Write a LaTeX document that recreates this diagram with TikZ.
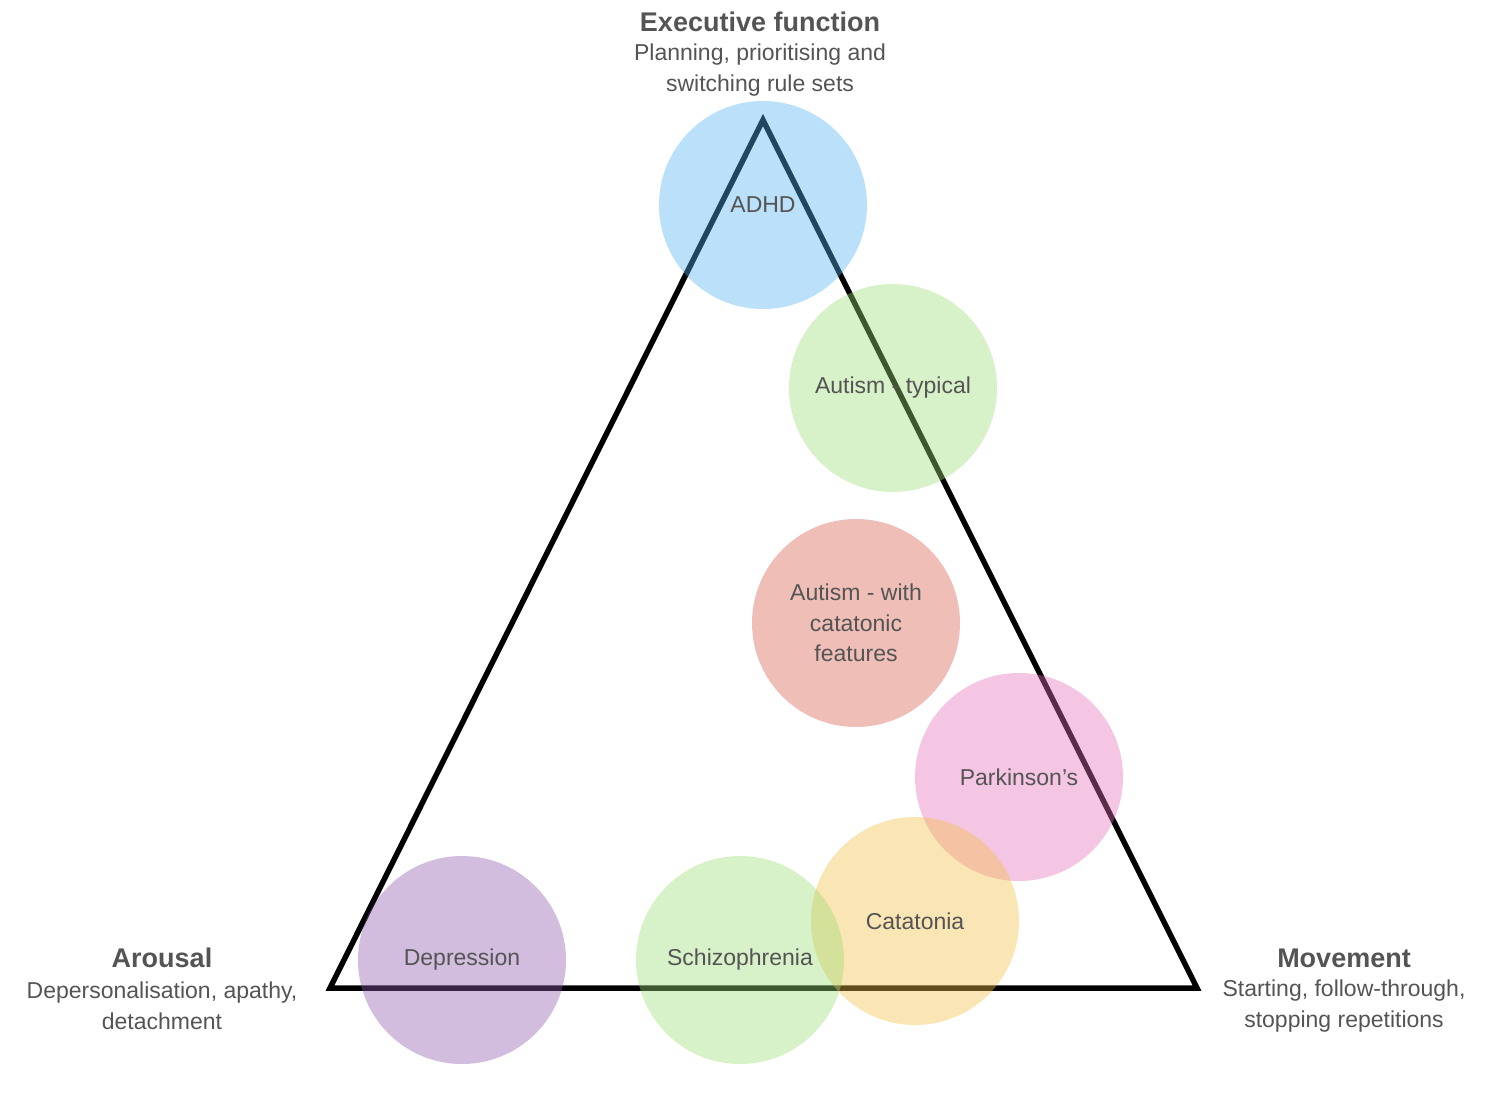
\documentclass[tikz,border=0pt]{standalone}
\usepackage{fontspec}
\setmainfont{Liberation Sans}
\begin{document}
\begin{tikzpicture}[x=1pt,y=-1pt,
  txt/.style={text=black!67,font=\fontsize{23}{30.5}\selectfont,align=center},
  ttl/.style={text=black!67,font=\fontsize{27}{30}\selectfont\bfseries},
  blob/.style={circle,minimum size=208pt,inner sep=0pt,fill=#1,fill opacity=0.4,text opacity=1,text=black!67,font=\fontsize{23}{30.5}\selectfont,align=center}]
\definecolor{cb}{rgb}{0.33,0.70,0.95}
\definecolor{cg}{rgb}{0.61,0.86,0.46}
\definecolor{cr}{rgb}{0.84,0.37,0.29}
\definecolor{cp}{rgb}{0.90,0.44,0.72}
\definecolor{cy}{rgb}{0.95,0.75,0.27}
\definecolor{cv}{rgb}{0.56,0.35,0.68}
\useasboundingbox (0,0) rectangle (1493,1102);
\coordinate (A) at (763,120);
\coordinate (L) at (330,988);
\coordinate (R) at (1197,988);
\draw[line width=5.5pt,line join=miter] (A) -- (L) -- (R) -- cycle;
\node[ttl] (et) at (760,22) {Executive function};
\node[txt] (es) at (760,70) {Planning, prioritising and\\switching rule sets};
\node[ttl] (at) at (162,958) {Arousal};
\node[txt] (as) at (162,1006) {Depersonalisation, apathy,\\detachment};
\node[ttl] (mt) at (1344,958) {Movement};
\node[txt] (ms) at (1344,1006) {Starting, follow-through,\\stopping repetitions};
\node[blob=cb] (adhd) at (763,205) {ADHD};
\node[blob=cg] (aut) at (893,388) {Autism - typical};
\node[blob=cr] (autc) at (856,623) {Autism - with\\catatonic\\features};
\node[blob=cp] (park) at (1019,777) {Parkinson’s};
\node[blob=cy] (cat) at (915,921) {Catatonia};
\node[blob=cg] (sch) at (740,960) {Schizophrenia};
\node[blob=cv] (dep) at (462,960) {Depression};
\end{tikzpicture}
\end{document}
